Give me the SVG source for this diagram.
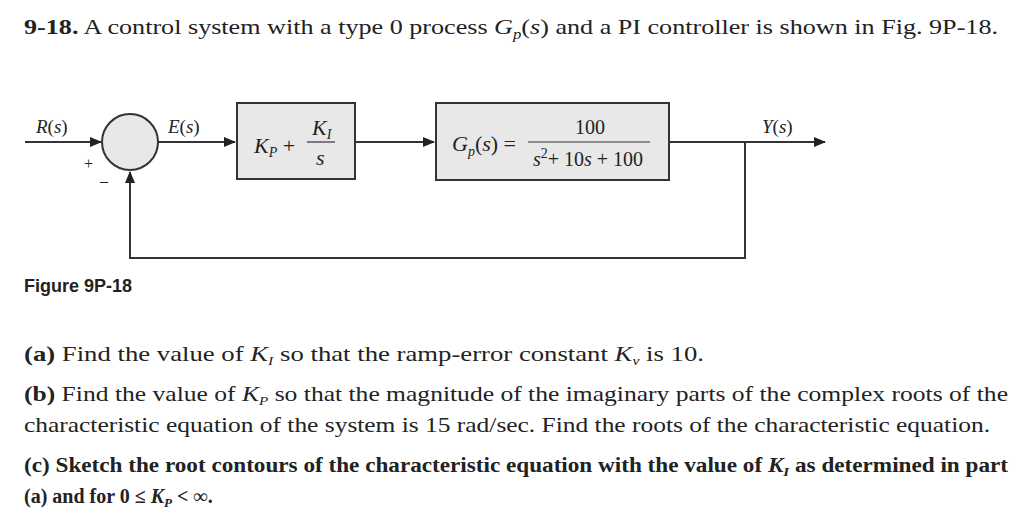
<svg xmlns="http://www.w3.org/2000/svg" width="1024" height="530" viewBox="0 0 1024 530">
<style>
.t{font-family:"Liberation Serif",serif;fill:#222}
.i{font-style:italic}
.b{font-family:"Liberation Sans",sans-serif;font-weight:bold;fill:#222}
.blk{fill:#e8e8e8;stroke:#333;stroke-width:2}
.ln{fill:none;stroke:#333;stroke-width:2}
</style>
<defs><marker id="a" markerWidth="12" markerHeight="10" refX="11" refY="5" orient="auto" markerUnits="userSpaceOnUse"><path d="M0,0L12,5L0,10Z" fill="#222"/></marker></defs>
<rect width="1024" height="530" fill="#fff"/>
<text class="t" x="24" y="34" font-size="22" textLength="974" lengthAdjust="spacingAndGlyphs"><tspan font-weight="bold">9-18.</tspan>    A control system with a type 0 process <tspan class="i">G</tspan><tspan class="i" font-size="14" dy="5">p</tspan><tspan dy="-5">(</tspan><tspan class="i">s</tspan>) and a PI controller is shown in Fig. 9P-18.</text>
<g id="conn">
<path class="ln" d="M25,142H101" marker-end="url(#a)"/>
<path class="ln" d="M158,142H235" marker-end="url(#a)"/>
<path class="ln" d="M355,142H434" marker-end="url(#a)"/>
<path class="ln" d="M669,142H825" marker-end="url(#a)"/>
<path class="ln" d="M745,142V258H130V172" marker-end="url(#a)"/>
</g>
<g id="sum"><circle cx="130" cy="142" r="28" fill="#e8e8e8" stroke="#333" stroke-width="2"/>
<text class="t" x="84" y="169" font-size="16">+</text><text class="t" x="100" y="186" font-size="16">–</text></g>
<g id="labels">
<text class="t" x="36" y="133" font-size="19"><tspan class="i">R</tspan>(<tspan class="i">s</tspan>)</text>
<text class="t" x="168" y="133" font-size="19"><tspan class="i">E</tspan>(<tspan class="i">s</tspan>)</text>
<text class="t" x="762" y="133" font-size="19"><tspan class="i">Y</tspan>(<tspan class="i">s</tspan>)</text>
</g>
<g id="pi"><rect class="blk" x="237" y="103" width="118" height="76"/>
<text class="t" x="254" y="153" font-size="22"><tspan class="i">K</tspan><tspan class="i" font-size="14" dy="4">P</tspan><tspan dy="-4"> +</tspan></text>
<text class="t i" x="312" y="135" font-size="22">K<tspan font-size="14" dy="4">I</tspan></text>
<line x1="307" y1="142" x2="335" y2="142" stroke="#333" stroke-width="1.2"/>
<text class="t i" x="316" y="165" font-size="22">s</text></g>
<g id="gp"><rect class="blk" x="436" y="103" width="233" height="77"/>
<text class="t" x="452" y="151" font-size="22"><tspan class="i">G</tspan><tspan class="i" font-size="14" dy="5">p</tspan><tspan dy="-5">(</tspan><tspan class="i">s</tspan>) =</text>
<text class="t" x="590" y="134" font-size="20" text-anchor="middle">100</text>
<line x1="528" y1="142" x2="650" y2="142" stroke="#333" stroke-width="1.2"/>
<text class="t" x="588" y="166" font-size="20" text-anchor="middle"><tspan class="i">s</tspan><tspan font-size="14" dy="-8">2</tspan><tspan dy="8">+ 10</tspan><tspan class="i">s</tspan> + 100</text></g>
<text class="b" x="24" y="292" font-size="18">Figure 9P-18</text>
<g class="t" font-size="22">
<text x="24" y="361" textLength="680" lengthAdjust="spacingAndGlyphs"><tspan font-weight="bold">(a)</tspan>    Find the value of <tspan class="i">K</tspan><tspan class="i" font-size="13" dy="4">I</tspan><tspan dy="-4"> so that the ramp-error constant </tspan><tspan class="i">K</tspan><tspan class="i" font-size="13" dy="4">v</tspan><tspan dy="-4"> is 10.</tspan></text>
<text x="24" y="401" textLength="984" lengthAdjust="spacingAndGlyphs"><tspan font-weight="bold">(b)</tspan>    Find the value of <tspan class="i">K</tspan><tspan class="i" font-size="13" dy="4">P</tspan><tspan dy="-4"> so that the magnitude of the imaginary parts of the complex roots of the</tspan></text>
<text x="24" y="432" textLength="966" lengthAdjust="spacingAndGlyphs">characteristic equation of the system is 15 rad/sec. Find the roots of the characteristic equation.</text>
<text x="24" y="472" font-weight="bold" font-size="20" textLength="984" lengthAdjust="spacingAndGlyphs">(c)   Sketch the root contours of the characteristic equation with the value of <tspan class="i">K</tspan><tspan class="i" font-size="13" dy="4">I</tspan><tspan dy="-4"> as determined in part</tspan></text>
<text x="24" y="503" font-weight="bold" font-size="20">(a) and for 0 ≤ <tspan class="i">K</tspan><tspan class="i" font-size="13" dy="4">P</tspan><tspan dy="-4"> &lt; ∞.</tspan></text>
</g>
</svg>
